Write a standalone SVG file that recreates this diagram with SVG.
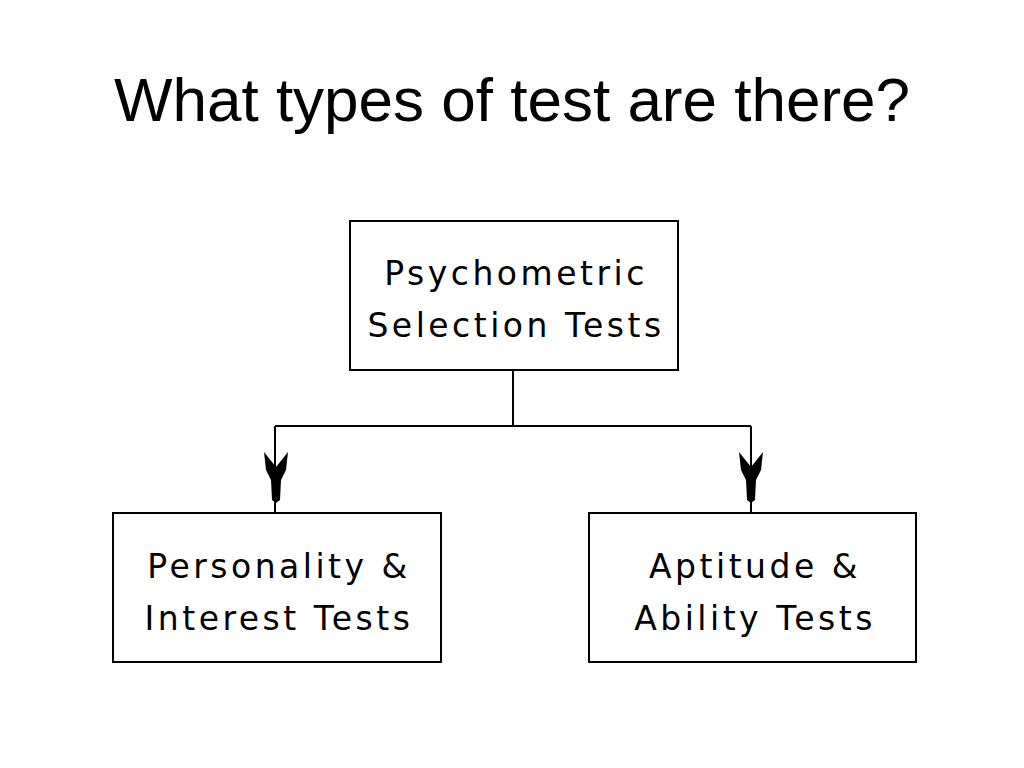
<svg xmlns="http://www.w3.org/2000/svg" width="1024" height="768" viewBox="0 0 1024 768">
<style>
.box{fill:#fff;stroke:#000;stroke-width:2}
.t{font-family:"DejaVu Sans",sans-serif;font-size:33px;letter-spacing:3.5px;text-anchor:middle;fill:#000}
.c{stroke:#000;stroke-width:2;fill:none}
</style>
<defs>
<polygon id="ah" points="-12,0 0,15 12,0 10,18 5,28 4,48 0,51 -4,48 -5,28 -10,18"/>
</defs>
<rect width="1024" height="768" fill="#fff"/>
<text x="512" y="121" font-family="Liberation Sans,Arial,sans-serif" font-size="62" text-anchor="middle">What types of test are there?</text>
<g id="connectors">
<path class="c" d="M513,370V426M275,426H751M275,426V513M751,426V513"/>
<use href="#ah" x="276" y="452"/>
<use href="#ah" x="751" y="452"/>
</g>
<g id="n1"><rect class="box" x="350" y="221" width="328" height="149"/>
<text class="t" x="516" y="285">Psychometric</text><text class="t" x="516" y="337">Selection Tests</text></g>
<g id="n2"><rect class="box" x="113" y="513" width="328" height="149"/>
<text class="t" x="279" y="578">Personality &amp;</text><text class="t" x="279" y="630">Interest Tests</text></g>
<g id="n3"><rect class="box" x="589" y="513" width="327" height="149"/>
<text class="t" x="755" y="578">Aptitude &amp;</text><text class="t" x="755" y="630">Ability Tests</text></g>
</svg>
